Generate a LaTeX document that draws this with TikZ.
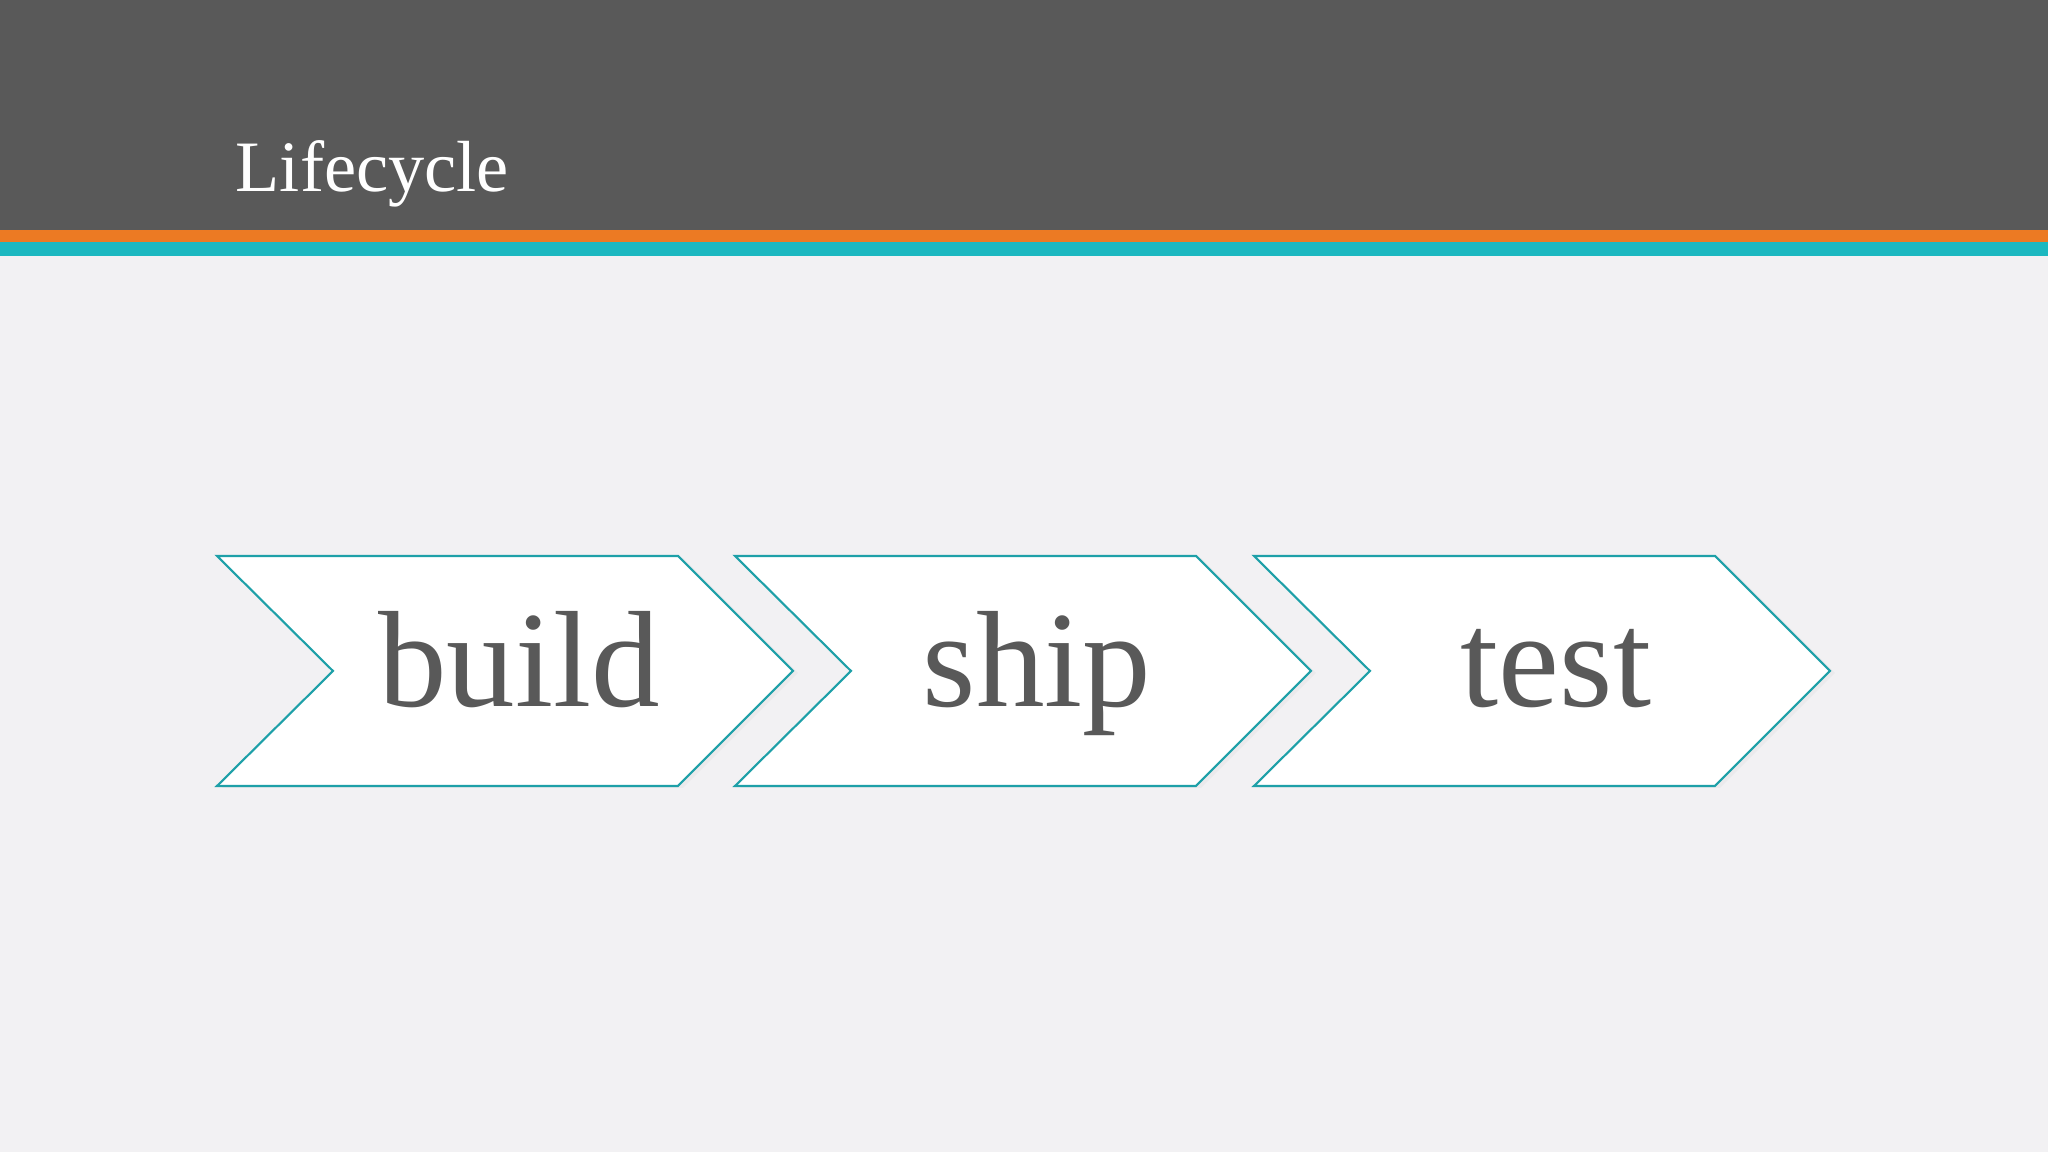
\documentclass[tikz,border=0pt]{standalone}
\usepackage{fontspec}
\setmainfont{Liberation Serif}
\usepackage{xcolor}
\usetikzlibrary{positioning, shadows}
\definecolor{slidebg}{RGB}{242,241,243}
\definecolor{headgray}{RGB}{89,89,89}
\definecolor{bandorange}{RGB}{236,122,35}
\definecolor{bandteal}{RGB}{28,184,192}
\definecolor{edgeteal}{RGB}{30,160,168}
\definecolor{wordgray}{RGB}{89,89,89}

\tikzset{
  stageshape/.style={draw=edgeteal, fill=white, line width=0.6pt,
    drop shadow={shadow xshift=0.05cm, shadow yshift=-0.02cm, opacity=0.06}},
  stageword/.style={anchor=base, inner sep=0pt, text=wordgray, font=\fontsize{39}{42}\selectfont}
}

\begin{document}
\begin{tikzpicture}
    % fondo e testata
    \fill[slidebg] (0,0) rectangle (20.48,11.52);
    \fill[headgray] (0,9.22) rectangle (20.48,11.52);
    \fill[bandorange] (0,9.10) rectangle (20.48,9.22);
    \fill[bandteal] (0,8.96) rectangle (20.48,9.10);

    % titolo
    \node[anchor=base west,text=white,font=\fontsize{20.6}{24}\selectfont,inner sep=0pt] (title) at (2.35,9.60) {Lifecycle};

    % fasi
    \foreach \x/\name in {2.17/build, 7.35/ship, 12.54/test}{
        \path[stageshape] (\x,5.96) -- ++(4.61,0) -- ++(1.15,-1.15) -- ++(-1.15,-1.15)
            -- ++(-4.61,0) -- ++(1.16,1.15) -- cycle;
        \node[stageword] (\name) at (\x+3.02,4.45) {\name};
    }
\end{tikzpicture}
\end{document}
